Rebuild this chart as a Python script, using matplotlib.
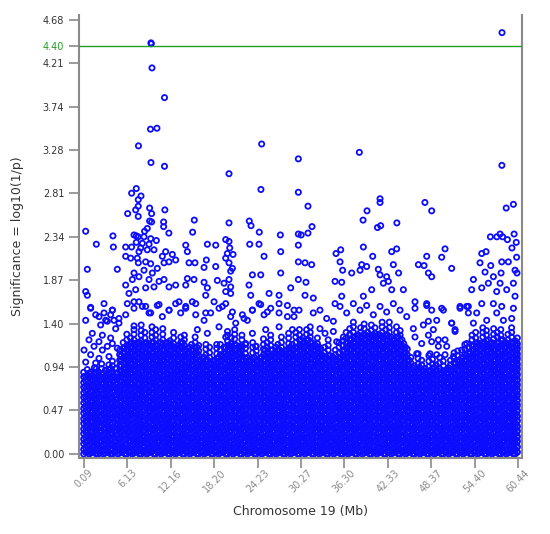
import matplotlib
matplotlib.use("Agg")
import matplotlib.pyplot as plt

# valeurs (Mb, -log10 p)
top_mb = [9.41, 9.45, 9.55, 11.29, 9.34, 10.24, 7.67, 9.41, 11.29, 58.22, 20.26, 24.8, 29.9,
          24.7, 29.9, 7.37, 6.72, 8.02, 7.64, 7.64, 7.28, 6.17, 7.64, 9.22, 9.5, 9.22, 9.5,
          11.34, 11.17, 11.17, 8.9, 8.52, 11.9, 15.43, 15.2, 20.26, 23.08, 23.32, 24.47, 27.4,
          29.9, 0.33, 4.12, 7.37, 7.64, 38.38, 58.2, 31.24, 41.26, 41.26, 39.45, 38.9, 40.9,
          41.35, 43.6, 47.5, 48.44, 58.8, 59.8, 31.8, 31.24, 30.3, 56.6, 57.95, 57.5, 58.3,
          59.9, 7.05, 8.44, 9.37, 19.8, 58.97]
top_sig = [4.43, 4.42, 4.16, 3.84, 3.50, 3.51, 3.32, 3.14, 3.10, 4.54, 3.02, 3.34, 3.18,
           2.85, 2.82, 2.86, 2.81, 2.78, 2.74, 2.67, 2.63, 2.59, 2.56, 2.65, 2.59, 2.51, 2.50,
           2.63, 2.50, 2.45, 2.43, 2.40, 2.38, 2.52, 2.39, 2.49, 2.51, 2.46, 2.39, 2.36,
           2.37, 2.40, 2.35, 2.35, 2.34, 3.25, 3.11, 2.67, 2.75, 2.71, 2.62, 2.52, 2.44,
           2.46, 2.49, 2.71, 2.62, 2.65, 2.69, 2.45, 2.38, 2.36, 2.34, 2.37, 2.34, 2.34,
           2.37, 2.36, 2.34, 2.32, 2.31, 2.31]

mid_mb = [1.81, 4.18, 5.89, 6.72, 7.37, 8.21, 9.14, 10.16, 7.74, 11.45, 12.38, 14.24, 14.47,
          17.25, 18.41, 20.26, 20.36, 23.14, 24.43, 27.45, 25.13, 29.9, 0.56, 4.73, 5.89, 6.59,
          7.65, 8.67, 9.37, 10.99, 11.22, 11.92, 12.84, 14.7, 15.53, 17.11, 16.79, 18.41, 19.8,
          20.82, 20.26, 20.49, 23.51, 24.67, 27.45, 29.9, 0.33, 0.56, 5.89, 6.82, 6.35, 7.28,
          8.67, 10.53, 11.22, 11.92, 12.84, 14.47, 15.39, 14.24, 16.79, 17.25, 18.64, 17.02,
          19.8, 20.49, 23.04, 23.28, 25.83, 27.22, 28.84, 29.9, 7.98, 8.9, 9.83, 7.51, 8.44,
          9.6, 10.29, 7.05, 7.74, 9.14, 9.83, 20.03, 20.73, 20.26, 20.49, 19.57,
          35.14, 35.79, 35.7, 36.06, 35.0, 35.93, 37.32, 38.94, 38.71, 38.48, 39.4, 40.24,
          41.02, 41.26, 42.88, 43.57, 43.11, 42.18, 42.42, 43.84, 30.83, 31.75, 30.96, 46.59,
          47.38, 47.75, 50.3, 49.83, 47.98, 48.44, 51.22, 55.4, 56.0, 55.16, 56.65, 58.18,
          59.1, 60.03, 55.86, 57.02, 58.09, 54.24, 56.32, 57.95, 59.8, 54.0, 55.4, 57.48,
          58.87, 60.03, 30.83, 31.98, 35.0, 35.93, 38.94, 40.1, 41.72, 42.88, 44.5, 46.12,
          47.75, 50.07, 52.38, 53.54, 51.22, 51.69, 60.2, 60.25, 59.6, 60.3,
          1.02, 2.88, 4.04, 2.18, 3.11, 4.96, 5.89, 7.05, 8.21, 9.14, 10.53, 11.92, 13.31,
          14.24, 15.63, 17.02, 18.18, 19.34, 20.73, 22.35, 23.51, 24.67, 25.59, 27.22, 28.38,
          29.3,
          1.02, 1.72, 0.33, 1.25, 2.65, 3.8, 0.1, 0.33, 1.49, 2.65, 4.04, 4.5, 2.88, 4.04,
          4.27, 4.96, 2.41, 3.34, 3.8, 0.79, 2.18, 3.34, 4.73, 1.02, 2.18, 3.57, 1.72,
          6.12, 7.05, 7.74, 8.67, 9.37, 10.29, 10.99, 11.92, 12.84, 13.54, 14.24, 15.16,
          15.63, 16.79, 17.71, 18.87, 19.8, 20.49, 21.19, 22.12, 22.81, 23.51, 24.43, 25.13,
          26.06, 27.22, 28.38, 29.3, 30.0, 15.86, 17.25, 18.87, 19.8, 23.51, 22.58, 23.97,
          25.36, 27.22, 29.07, 21.88, 23.04,
          47.75, 48.44, 49.83, 51.22, 51.69, 47.28, 47.98, 49.14, 48.67, 47.98, 47.05, 48.44,
          49.37, 50.3, 49.37, 50.53, 48.21, 49.14, 50.3, 51.46, 46.36, 46.12, 45.89, 52.38,
          53.31, 53.54, 52.61, 53.31, 54.7, 55.4, 57.02, 58.18, 59.8, 58.41, 59.57, 56.09,
          54.24, 57.48, 31.98, 32.91, 33.84, 34.77, 35.7, 36.62, 37.55, 38.47, 39.4, 40.33,
          41.26, 42.18, 43.11, 44.04, 44.97, 46.12, 33.61, 34.77, 36.16, 32.91, 35.23]
mid_sig = [2.26, 2.23, 2.23, 2.23, 2.28, 2.27, 2.26, 2.30, 2.18, 2.18, 2.15, 2.25, 2.18,
           2.26, 2.25, 2.29, 2.22, 2.26, 2.26, 2.18, 2.13, 2.25, 1.99, 1.99, 2.13, 2.11,
           2.06, 2.07, 2.05, 2.13, 2.06, 2.07, 2.09, 2.06, 2.06, 2.09, 2.01, 2.02, 2.11,
           2.15, 2.06, 1.97, 1.93, 1.93, 1.95, 2.07, 1.75, 1.71, 1.82, 1.88, 1.73, 1.77,
           1.79, 1.86, 1.88, 1.80, 1.82, 1.89, 1.88, 1.82, 1.85, 1.79, 1.87, 1.71,
           1.75, 1.73, 1.82, 1.71, 1.73, 1.71, 1.79, 1.88, 2.22, 2.20, 2.20, 2.11, 1.98,
           1.95, 2.00, 1.95, 1.91, 1.88, 1.80, 2.16, 2.00, 1.88, 1.80, 1.84,
           2.16, 2.20, 2.07, 1.98, 1.86, 1.85, 1.95, 2.23, 2.04, 1.98, 2.02, 2.13,
           1.99, 1.93, 2.18, 2.21, 2.04, 1.91, 1.86, 1.95, 2.06, 2.04, 1.85, 2.04,
           2.03, 2.13, 2.21, 2.12, 1.95, 1.91, 2.00, 2.16, 2.18, 2.06, 2.03, 2.07,
           2.07, 1.98, 1.96, 1.91, 1.95, 1.88, 1.84, 1.84, 1.84, 1.77, 1.79, 1.75,
           1.77, 1.70, 1.71, 1.68, 1.62, 1.70, 1.70, 1.77, 1.84, 1.77, 1.77, 1.64,
           1.62, 1.55, 1.57, 1.59, 1.41, 1.34, 2.28, 2.12, 2.22, 1.95,
           1.57, 1.62, 1.55, 1.48, 1.44, 1.46, 1.50, 1.64, 1.59, 1.52, 1.61, 1.55, 1.64,
           1.57, 1.62, 1.52, 1.64, 1.59, 1.53, 1.46, 1.55, 1.61, 1.53, 1.62, 1.48,
           1.55,
           1.58, 1.50, 1.44, 1.30, 1.28, 1.25, 1.12, 0.99, 1.16, 1.12, 1.19, 1.35, 1.52, 1.55,
           1.44, 1.41, 1.39, 1.43, 1.50, 1.23, 1.21, 1.16, 1.14, 1.07, 1.03, 1.05, 0.98,
           1.62, 1.57, 1.64, 1.59, 1.52, 1.60, 1.48, 1.55, 1.62, 1.52, 1.59, 1.64,
           1.50, 1.44, 1.52, 1.57, 1.62, 1.48, 1.41, 1.50, 1.44, 1.55, 1.62, 1.50,
           1.57, 1.52, 1.60, 1.48, 1.55, 1.34, 1.30, 1.37, 1.26, 1.30, 1.19, 1.16,
           1.34, 1.37, 1.34, 1.08, 1.01,
           1.60, 1.55, 1.57, 1.41, 1.32, 1.39, 1.43, 1.44, 1.34, 1.28, 1.19, 1.21,
           1.23, 1.23, 1.16, 1.16, 1.08, 1.07, 1.07, 1.05, 1.08, 1.26, 1.35, 1.59,
           1.59, 1.52, 1.12, 1.19, 1.52, 1.62, 1.62, 1.59, 1.57, 1.44, 1.46, 1.44,
           1.41, 1.52, 1.52, 1.55, 1.46, 1.43, 1.59, 1.52, 1.62, 1.55, 1.60, 1.50,
           1.59, 1.53, 1.62, 1.55, 1.48, 1.57, 1.30, 1.32, 1.26, 1.35, 1.21]

# bande dense du bas : positions (Mb) et valeurs (centiemes) par colonne
band_mb = [0.05, 0.55, 1.05, 1.55, 2.05, 2.55, 3.05, 3.55, 4.05, 4.55, 5.05, 5.55, 6.05, 6.55,
           7.05, 7.55, 8.05, 8.55, 9.05, 9.55, 10.05, 10.55, 11.05, 11.55, 12.05, 12.55, 13.05,
           13.55, 14.05, 14.55, 15.05, 15.55, 16.05, 16.55, 17.05, 17.55, 18.05, 18.55, 19.05,
           19.55, 20.05, 20.55, 21.05, 21.55, 22.05, 22.55, 23.05, 23.55, 24.05, 24.55, 25.05,
           25.55, 26.05, 26.55, 27.05, 27.55, 28.05, 28.55, 29.05, 29.55, 30.05, 30.55, 31.05,
           31.55, 32.05, 32.55, 33.05, 33.55, 34.05, 34.55, 35.05, 35.55, 36.05, 36.55, 37.05,
           37.55, 38.05, 38.55, 39.05, 39.55, 40.05, 40.55, 41.05, 41.55, 42.05, 42.55, 43.05,
           43.55, 44.05, 44.55, 45.05, 45.55, 46.05, 46.55, 47.05, 47.55, 48.05, 48.55, 49.05,
           49.55, 50.05, 50.55, 51.05, 51.55, 52.05, 52.55, 53.05, 53.55, 54.05, 54.55, 55.05,
           55.55, 56.05, 56.55, 57.05, 57.55, 58.05, 58.55, 59.05, 59.55, 60.05, 60.35]
band_sig = [
    [0, 5, 11, 16, 22, 27, 33, 38, 44, 49, 55, 61, 66, 72, 77, 83, 88],
    [2, 8, 13, 19, 24, 30, 35, 41, 47, 52, 58, 63, 69, 74, 80, 85, 91],
    [1, 6, 12, 18, 23, 29, 34, 40, 45, 51, 56, 62, 67, 73, 78, 84, 88],
    [3, 9, 14, 20, 26, 31, 37, 42, 48, 53, 59, 64, 70, 76, 81, 87, 93],
    [0, 5, 10, 16, 21, 27, 33, 38, 44, 50, 55, 61, 66, 72, 77, 83, 89],
    [3, 8, 14, 19, 25, 30, 36, 41, 47, 53, 58, 64, 69, 75, 80, 86, 92, 97],
    [1, 6, 12, 17, 23, 28, 34, 40, 45, 51, 56, 62, 67, 73, 79, 84, 90],
    [2, 8, 13, 19, 25, 30, 36, 41, 47, 52, 58, 63, 69, 75, 80, 86, 91, 96],
    [0, 6, 11, 17, 22, 28, 33, 39, 44, 50, 56, 61, 67, 72, 78, 83, 89, 95, 100],
    [3, 9, 14, 20, 25, 31, 37, 42, 48, 53, 59, 64, 70, 75, 81, 87, 92],
    [1, 6, 12, 17, 23, 29, 34, 40, 45, 51, 56, 62, 68, 73, 79, 84, 90, 95, 101, 107, 112],
    [3, 8, 14, 20, 25, 31, 36, 42, 47, 53, 59, 64, 70, 75, 81, 86, 92, 98, 103, 109, 114, 120],
    [0, 6, 11, 17, 23, 28, 34, 39, 45, 50, 56, 62, 67, 73, 78, 84, 89, 95, 101, 106, 112, 117, 123, 129],
    [2, 8, 13, 19, 24, 30, 36, 41, 47, 52, 58, 63, 69, 75, 80, 86, 91, 97, 102, 108, 114, 119, 125],
    [1, 6, 12, 17, 23, 28, 34, 40, 45, 51, 56, 62, 67, 73, 79, 84, 90, 95, 101, 106, 112, 118, 123, 129, 134, 138],
    [3, 9, 14, 20, 25, 31, 36, 42, 48, 53, 59, 64, 70, 75, 81, 87, 92, 98, 103, 109, 114, 120],
    [0, 5, 11, 16, 22, 28, 33, 39, 44, 50, 55, 61, 67, 72, 78, 83, 89, 94, 100, 106, 111, 117, 122, 128, 133, 139],
    [2, 8, 14, 19, 25, 30, 36, 41, 47, 53, 58, 64, 69, 75, 80, 86, 92, 97, 103, 108, 114, 119, 125, 131],
    [1, 7, 12, 18, 23, 29, 35, 40, 46, 51, 57, 62, 68, 74, 79, 85, 90, 96, 101, 107, 113, 118],
    [3, 9, 14, 20, 26, 31, 37, 42, 48, 53, 59, 65, 70, 76, 81, 87, 92, 98, 104, 109, 115, 120, 126, 131, 137],
    [0, 6, 11, 17, 22, 28, 34, 39, 45, 50, 56, 61, 67, 73, 78, 84, 89, 95, 100, 106, 112, 117, 123, 128, 134],
    [2, 8, 13, 19, 25, 30, 36, 41, 47, 52, 58, 64, 69, 75, 80, 86, 91, 97, 103, 108, 114],
    [1, 6, 12, 18, 23, 29, 34, 40, 45, 51, 57, 62, 68, 73, 79, 84, 90, 96, 101, 107, 112, 118, 123, 129, 135],
    [3, 9, 14, 20, 25, 31, 37, 42, 48, 53, 59, 64, 70, 76, 81, 87, 92, 98, 103, 109, 115, 120],
    [0, 5, 11, 16, 22, 28, 33, 39, 44, 50, 55, 61, 67, 72, 78, 83, 89, 94, 100, 106, 111, 117, 122],
    [2, 8, 14, 19, 25, 30, 36, 41, 47, 53, 58, 64, 69, 75, 80, 86, 92, 97, 103, 108, 114, 119, 125, 131],
    [1, 7, 12, 18, 23, 29, 35, 40, 46, 51, 57, 62, 68, 74, 79, 85, 90, 96, 101, 107, 113],
    [3, 9, 14, 20, 26, 31, 37, 42, 48, 53, 59, 65, 70, 76, 81, 87, 92, 98, 104, 109, 115, 120, 126],
    [0, 6, 11, 17, 22, 28, 34, 39, 45, 50, 56, 61, 67, 73, 78, 84, 89, 95, 100, 106, 112, 117, 123, 128],
    [2, 8, 13, 19, 25, 30, 36, 41, 47, 52, 58, 64, 69, 75, 80, 86, 91, 97, 103, 108, 114],
    [1, 6, 12, 18, 23, 29, 34, 40, 45, 51, 57, 62, 68, 73, 79, 84, 90, 96, 101, 107, 112, 118],
    [3, 9, 14, 20, 25, 31, 37, 42, 48, 53, 59, 64, 70, 76, 81, 87, 92, 98, 103, 109, 115, 120, 126],
    [0, 5, 11, 16, 22, 28, 33, 39, 44, 50, 55, 61, 67, 72, 78, 83, 89, 94, 100, 106, 111, 117],
    [2, 8, 14, 19, 25, 30, 36, 41, 47, 53, 58, 64, 69, 75, 80, 86, 92, 97, 103],
    [1, 7, 12, 18, 23, 29, 35, 40, 46, 51, 57, 62, 68, 74, 79, 85, 90, 96, 101, 107, 113, 118],
    [3, 9, 14, 20, 26, 31, 37, 42, 48, 53, 59, 65, 70, 76, 81, 87, 92, 98, 104, 109, 115],
    [0, 6, 11, 17, 22, 28, 34, 39, 45, 50, 56, 61, 67, 73, 78, 84, 89, 95, 100],
    [2, 8, 13, 19, 25, 30, 36, 41, 47, 52, 58, 64, 69, 75, 80, 86, 91, 97, 103, 108, 114, 118],
    [1, 6, 12, 18, 23, 29, 34, 40, 45, 51, 57, 62, 68, 73, 79, 84, 90, 96, 101, 107, 112, 118],
    [3, 9, 14, 20, 25, 31, 37, 42, 48, 53, 59, 64, 70, 76, 81, 87, 92, 98, 103, 109, 115],
    [0, 5, 11, 16, 22, 28, 33, 39, 44, 50, 55, 61, 67, 72, 78, 83, 89, 94, 100, 106, 111, 117, 122, 128, 132],
    [2, 8, 14, 19, 25, 30, 36, 41, 47, 53, 58, 64, 69, 75, 80, 86, 92, 97, 103, 108, 114, 119, 125],
    [1, 7, 12, 18, 23, 29, 35, 40, 46, 51, 57, 62, 68, 74, 79, 85, 90, 96, 101, 107, 113, 118, 124, 129, 134],
    [3, 9, 14, 20, 26, 31, 37, 42, 48, 53, 59, 65, 70, 76, 81, 87, 92, 98, 104, 109, 115],
    [0, 6, 11, 17, 22, 28, 34, 39, 45, 50, 56, 61, 67, 73, 78, 84, 89, 95, 100, 106, 112, 117, 123, 128],
    [2, 8, 13, 19, 25, 30, 36, 41, 47, 52, 58, 64, 69, 75, 80, 86, 91, 97, 103, 108, 114, 118],
    [1, 6, 12, 18, 23, 29, 34, 40, 45, 51, 57, 62, 68, 73, 79, 84, 90, 96, 101],
    [3, 9, 14, 20, 25, 31, 37, 42, 48, 53, 59, 64, 70, 76, 81, 87, 92, 98, 103, 109, 115, 120],
    [0, 5, 11, 16, 22, 28, 33, 39, 44, 50, 55, 61, 67, 72, 78, 83, 89, 94, 100, 106, 111, 116],
    [2, 8, 14, 19, 25, 30, 36, 41, 47, 53, 58, 64, 69, 75, 80, 86, 92, 97, 103],
    [1, 7, 12, 18, 23, 29, 35, 40, 46, 51, 57, 62, 68, 74, 79, 85, 90, 96, 101, 107, 113, 118, 124],
    [3, 9, 14, 20, 26, 31, 37, 42, 48, 53, 59, 65, 70, 76, 81, 87, 92, 98, 104, 109, 115, 120],
    [0, 6, 11, 17, 22, 28, 34, 39, 45, 50, 56, 61, 67, 73, 78, 84, 89, 95, 100, 106, 112, 117, 123, 128],
    [2, 8, 13, 19, 25, 30, 36, 41, 47, 52, 58, 64, 69, 75, 80, 86, 91, 97, 103, 108],
    [1, 6, 12, 18, 23, 29, 34, 40, 45, 51, 57, 62, 68, 73, 79, 84, 90, 96, 101, 107, 112, 118],
    [3, 9, 14, 20, 25, 31, 37, 42, 48, 53, 59, 64, 70, 76, 81, 87, 92, 98, 103, 109, 115, 120, 126],
    [0, 5, 11, 16, 22, 28, 33, 39, 44, 50, 55, 61, 67, 72, 78, 83, 89, 94, 100, 106, 111],
    [2, 8, 14, 19, 25, 30, 36, 41, 47, 53, 58, 64, 69, 75, 80, 86, 92, 97, 103, 108, 114, 119, 125, 130],
    [1, 7, 12, 18, 23, 29, 35, 40, 46, 51, 57, 62, 68, 74, 79, 85, 90, 96, 101, 107, 113, 118],
    [3, 9, 14, 20, 26, 31, 37, 42, 48, 53, 59, 65, 70, 76, 81, 87, 92, 98, 104, 109, 115, 120, 126, 131],
    [0, 6, 11, 17, 22, 28, 34, 39, 45, 50, 56, 61, 67, 73, 78, 84, 89, 95, 100, 106, 112, 117, 123, 128, 134],
    [2, 8, 13, 19, 25, 30, 36, 41, 47, 52, 58, 64, 69, 75, 80, 86, 91, 97, 103, 108, 114, 119, 125],
    [1, 6, 12, 18, 23, 29, 34, 40, 45, 51, 57, 62, 68, 73, 79, 84, 90, 96, 101, 107, 112, 118, 123, 129, 134],
    [3, 9, 14, 20, 25, 31, 37, 42, 48, 53, 59, 64, 70, 76, 81, 87, 92, 98, 103, 109, 115, 120, 126, 131, 137],
    [0, 5, 11, 16, 22, 28, 33, 39, 44, 50, 55, 61, 67, 72, 78, 83, 89, 94, 100, 106, 111, 117],
    [2, 8, 14, 19, 25, 30, 36, 41, 47, 53, 58, 64, 69, 75, 80, 86, 92, 97, 103, 108, 114, 119, 125],
    [1, 7, 12, 18, 23, 29, 35, 40, 46, 51, 57, 62, 68, 74, 79, 85, 90, 96, 101, 107, 113],
    [3, 9, 14, 20, 26, 31, 37, 42, 48, 53, 59, 65, 70, 76, 81, 87, 92, 98, 104, 109, 115],
    [0, 6, 11, 17, 22, 28, 34, 39, 45, 50, 56, 61, 67, 73, 78, 84, 89, 95, 100, 106, 112, 117, 123],
    [2, 8, 13, 19, 25, 30, 36, 41, 47, 52, 58, 64, 69, 75, 80, 86, 91, 97, 103],
    [1, 6, 12, 18, 23, 29, 34, 40, 45, 51, 57, 62, 68, 73, 79, 84, 90, 96, 101, 107, 112],
    [3, 9, 14, 20, 25, 31, 37, 42, 48, 53, 59, 64, 70, 76, 81, 87, 92, 98, 103, 109, 115, 120],
    [0, 5, 11, 16, 22, 28, 33, 39, 44, 50, 55, 61, 67, 72, 78, 83, 89, 94, 100, 106, 111, 117, 122],
    [2, 8, 14, 19, 25, 30, 36, 41, 47, 53, 58, 64, 69, 75, 80, 86, 92, 97, 103, 108, 114, 119, 125, 131],
    [1, 7, 12, 18, 23, 29, 35, 40, 46, 51, 57, 62, 68, 74, 79, 85, 90, 96, 101, 107, 113, 118, 124, 129, 135],
    [3, 9, 14, 20, 26, 31, 37, 42, 48, 53, 59, 65, 70, 76, 81, 87, 92, 98, 104, 109, 115, 120, 126, 131, 137, 142],
    [0, 6, 11, 17, 22, 28, 34, 39, 45, 50, 56, 61, 67, 73, 78, 84, 89, 95, 100, 106, 112, 117, 123, 128],
    [2, 8, 13, 19, 25, 30, 36, 41, 47, 52, 58, 64, 69, 75, 80, 86, 91, 97, 103, 108, 114, 119, 125, 131, 136],
    [1, 6, 12, 18, 23, 29, 34, 40, 45, 51, 57, 62, 68, 73, 79, 84, 90, 96, 101, 107, 112, 118, 123, 129, 135, 140],
    [3, 9, 14, 20, 25, 31, 37, 42, 48, 53, 59, 64, 70, 76, 81, 87, 92, 98, 103, 109, 115, 120, 126, 131],
    [0, 5, 11, 16, 22, 28, 33, 39, 44, 50, 55, 61, 67, 72, 78, 83, 89, 94, 100, 106, 111, 117, 122, 128, 133, 139],
    [2, 8, 14, 19, 25, 30, 36, 41, 47, 53, 58, 64, 69, 75, 80, 86, 92, 97, 103, 108, 114, 119, 125, 130, 136],
    [1, 7, 12, 18, 23, 29, 35, 40, 46, 51, 57, 62, 68, 74, 79, 85, 90, 96, 101, 107, 113, 118, 124, 129],
    [3, 9, 14, 20, 26, 31, 37, 42, 48, 53, 59, 65, 70, 76, 81, 87, 92, 98, 104, 109, 115, 120, 126, 131, 137, 142],
    [0, 6, 11, 17, 22, 28, 34, 39, 45, 50, 56, 61, 67, 73, 78, 84, 89, 95, 100, 106, 112, 117, 123, 128, 134],
    [2, 8, 13, 19, 25, 30, 36, 41, 47, 52, 58, 64, 69, 75, 80, 86, 91, 97, 103, 108, 114, 119, 125, 131, 136, 142],
    [1, 6, 12, 18, 23, 29, 34, 40, 45, 51, 57, 62, 68, 73, 79, 84, 90, 96, 101, 107, 112, 118, 123],
    [3, 9, 14, 20, 25, 31, 37, 42, 48, 53, 59, 64, 70, 76, 81, 87, 92, 98, 103, 109, 115, 120, 126, 131, 137],
    [0, 5, 11, 16, 22, 28, 33, 39, 44, 50, 55, 61, 67, 72, 78, 83, 89, 94, 100, 106, 111, 117, 122, 128, 133],
    [2, 8, 14, 19, 25, 30, 36, 41, 47, 53, 58, 64, 69, 75, 80, 86, 92, 97, 103, 108, 114, 119],
    [1, 7, 12, 18, 23, 29, 35, 40, 46, 51, 57, 62, 68, 74, 79, 85, 90, 96, 101, 107, 113],
    [3, 9, 14, 20, 26, 31, 37, 42, 48, 53, 59, 65, 70, 76, 81, 87, 92, 98, 104],
    [0, 6, 11, 17, 22, 28, 34, 39, 45, 50, 56, 61, 67, 73, 78, 84, 89, 95],
    [2, 8, 13, 19, 25, 30, 36, 41, 47, 52, 58, 64, 69, 75, 80, 86, 91, 97, 103, 108],
    [1, 6, 12, 18, 23, 29, 34, 40, 45, 51, 57, 62, 68, 73, 79, 84, 90, 96, 101],
    [3, 9, 14, 20, 25, 31, 37, 42, 48, 53, 59, 64, 70, 76, 81, 87, 92],
    [0, 5, 11, 16, 22, 28, 33, 39, 44, 50, 55, 61, 67, 72, 78, 83, 89, 94, 100, 106],
    [2, 8, 14, 19, 25, 30, 36, 41, 47, 53, 58, 64, 69, 75, 80, 86, 92, 97, 102],
    [1, 7, 12, 18, 23, 29, 35, 40, 46, 51, 57, 62, 68, 74, 79, 85, 90, 96],
    [3, 9, 14, 20, 26, 31, 37, 42, 48, 53, 59, 65, 70, 76, 81, 87, 92, 98, 104],
    [0, 6, 11, 17, 22, 28, 34, 39, 45, 50, 56, 61, 67, 73, 78, 84, 89, 95, 100],
    [2, 8, 13, 19, 25, 30, 36, 41, 47, 52, 58, 64, 69, 75, 80, 86, 91],
    [1, 6, 12, 18, 23, 29, 34, 40, 45, 51, 57, 62, 68, 73, 79, 84, 90, 96, 101],
    [3, 9, 14, 20, 25, 31, 37, 42, 48, 53, 59, 64, 70, 76, 81, 87, 92, 98, 103, 109],
    [0, 5, 11, 16, 22, 28, 33, 39, 44, 50, 55, 61, 67, 72, 78, 83, 89, 94, 100, 106, 111],
    [2, 8, 14, 19, 25, 30, 36, 41, 47, 53, 58, 64, 69, 75, 80, 86, 92, 97, 103],
    [1, 7, 12, 18, 23, 29, 35, 40, 46, 51, 57, 62, 68, 74, 79, 85, 90, 96, 101, 107, 113, 118],
    [3, 9, 14, 20, 26, 31, 37, 42, 48, 53, 59, 65, 70, 76, 81, 87, 92, 98, 104, 109, 115],
    [0, 6, 11, 17, 22, 28, 34, 39, 45, 50, 56, 61, 67, 73, 78, 84, 89, 95, 100, 106, 112, 117, 123, 128],
    [2, 8, 13, 19, 25, 30, 36, 41, 47, 52, 58, 64, 69, 75, 80, 86, 91, 97, 103, 108, 114, 119, 125, 131],
    [1, 6, 12, 18, 23, 29, 34, 40, 45, 51, 57, 62, 68, 73, 79, 84, 90, 96, 101, 107, 112, 118],
    [3, 9, 14, 20, 25, 31, 37, 42, 48, 53, 59, 64, 70, 76, 81, 87, 92, 98, 103, 109, 115, 120, 126, 131, 136],
    [0, 5, 11, 16, 22, 28, 33, 39, 44, 50, 55, 61, 67, 72, 78, 83, 89, 94, 100, 106, 111, 117, 122, 128, 133],
    [2, 8, 14, 19, 25, 30, 36, 41, 47, 53, 58, 64, 69, 75, 80, 86, 92, 97, 103, 108, 114, 119],
    [1, 7, 12, 18, 23, 29, 35, 40, 46, 51, 57, 62, 68, 74, 79, 85, 90, 96, 101, 107, 113, 118, 124, 129, 135],
    [3, 9, 14, 20, 26, 31, 37, 42, 48, 53, 59, 65, 70, 76, 81, 87, 92, 98, 104, 109, 115, 120, 126, 131],
    [0, 6, 11, 17, 22, 28, 34, 39, 45, 50, 56, 61, 67, 73, 78, 84, 89, 95, 100, 106, 112, 117, 123, 128, 134],
    [2, 8, 13, 19, 25, 30, 36, 41, 47, 52, 58, 64, 69, 75, 80, 86, 91, 97, 103, 108, 114, 119],
    [1, 6, 12, 18, 23, 29, 34, 40, 45, 51, 57, 62, 68, 73, 79, 84, 90, 96, 101, 107, 112, 118, 123, 129],
    [3, 9, 14, 20, 25, 31, 37, 42, 48, 53, 59, 64, 70, 76, 81, 87, 92, 98, 103, 109, 115, 120, 126, 131, 136],
    [0, 5, 11, 16, 22, 28, 33, 39, 44, 50, 55, 61, 67, 72, 78, 83, 89, 94, 100, 106, 111, 117, 122],
    [2, 8, 14, 19, 25, 30, 36, 41, 47, 53, 58, 64, 69, 75, 80, 86, 92, 97, 103, 108, 114, 119, 125],
]

# colonnes intercalees de la bande (meme lecture, decalees de 0.25 Mb)
band2_mb = [0.3, 0.8, 1.3, 1.8, 2.3, 2.8, 3.3, 3.8, 4.3, 4.8, 5.3, 5.8, 6.3, 6.8, 7.3, 7.8,
            8.3, 8.8, 9.3, 9.8, 10.3, 10.8, 11.3, 11.8, 12.3, 12.8, 13.3, 13.8, 14.3, 14.8,
            15.3, 15.8, 16.3, 16.8, 17.3, 17.8, 18.3, 18.8, 19.3, 19.8, 20.3, 20.8, 21.3,
            21.8, 22.3, 22.8, 23.3, 23.8, 24.3, 24.8, 25.3, 25.8, 26.3, 26.8, 27.3, 27.8,
            28.3, 28.8, 29.3, 29.8, 30.3, 30.8, 31.3, 31.8, 32.3, 32.8, 33.3, 33.8, 34.3,
            34.8, 35.3, 35.8, 36.3, 36.8, 37.3, 37.8, 38.3, 38.8, 39.3, 39.8, 40.3, 40.8,
            41.3, 41.8, 42.3, 42.8, 43.3, 43.8, 44.3, 44.8, 45.3, 45.8, 46.3, 46.8, 47.3,
            47.8, 48.3, 48.8, 49.3, 49.8, 50.3, 50.8, 51.3, 51.8, 52.3, 52.8, 53.3, 53.8,
            54.3, 54.8, 55.3, 55.8, 56.3, 56.8, 57.3, 57.8, 58.3, 58.8, 59.3, 59.8, 60.3]
band2_sig = [
    [2, 7, 13, 18, 24, 29, 35, 40, 46, 51, 57, 62, 68, 73, 79, 84],
    [0, 5, 10, 16, 21, 27, 32, 38, 43, 49, 54, 60, 65, 71, 76, 82, 87],
    [2, 7, 13, 18, 24, 29, 35, 40, 46, 51, 57, 62, 68, 73, 79, 84],
    [0, 5, 11, 16, 21, 27, 32, 38, 44, 49, 54, 60, 65, 71, 76, 82, 87, 92],
    [1, 7, 13, 18, 24, 29, 35, 40, 46, 51, 57, 62, 68, 73, 79, 84],
    [0, 5, 10, 16, 21, 27, 33, 38, 43, 49, 54, 60, 65, 71, 77, 82, 87],
    [2, 7, 13, 18, 24, 30, 35, 40, 46, 51, 57, 62, 68, 73, 79, 84],
    [0, 5, 10, 16, 22, 27, 32, 38, 43, 49, 55, 60, 65, 71, 76, 82, 88, 92],
    [2, 8, 13, 18, 24, 29, 35, 41, 46, 51, 57, 63, 68, 73, 79, 84],
    [0, 5, 10, 16, 21, 27, 32, 38, 43, 49, 54, 60, 66, 71, 76, 82, 87],
    [2, 7, 13, 18, 24, 29, 35, 40, 46, 51, 57, 62, 68, 73, 79, 84, 90, 95, 101, 106],
    [0, 5, 10, 16, 21, 27, 32, 38, 43, 49, 54, 60, 65, 71, 76, 82, 87, 93, 98, 104, 109, 115],
    [2, 7, 13, 18, 24, 29, 35, 40, 46, 51, 57, 62, 68, 73, 79, 84, 90, 95, 101, 106, 112, 117],
    [0, 5, 10, 16, 21, 27, 32, 38, 43, 49, 54, 60, 65, 71, 76, 82, 87, 93, 98, 104, 109, 115, 120],
    [2, 7, 13, 18, 24, 29, 35, 41, 46, 51, 57, 62, 68, 73, 79, 85, 90, 95, 101, 106, 112, 117],
    [0, 5, 10, 16, 21, 27, 32, 38, 43, 49, 55, 60, 65, 71, 76, 82, 87, 93, 98, 104, 109, 115, 120],
    [2, 7, 13, 18, 24, 29, 35, 40, 46, 52, 57, 62, 68, 73, 79, 84, 90, 95, 101, 106, 112, 117],
    [0, 5, 11, 16, 21, 27, 32, 38, 43, 49, 54, 60, 65, 71, 76, 82, 87, 93, 98, 104, 109, 115, 120],
    [2, 7, 13, 18, 24, 29, 35, 40, 46, 51, 57, 62, 68, 74, 79, 84, 90, 95, 101, 106, 112, 117],
    [0, 5, 10, 16, 21, 27, 32, 38, 44, 49, 54, 60, 65, 71, 76, 82, 87, 93, 98, 104, 109, 115, 120],
    [2, 7, 13, 18, 24, 29, 35, 40, 46, 51, 57, 62, 68, 73, 79, 84, 90, 96, 101, 106, 112, 117],
    [0, 5, 10, 16, 21, 27, 33, 38, 43, 49, 54, 60, 65, 71, 76, 82, 87, 93, 98, 104, 109, 115, 120],
    [2, 7, 13, 18, 24, 29, 35, 40, 46, 51, 57, 62, 68, 73, 79, 84, 90, 95, 101, 106, 112, 117],
    [0, 5, 10, 16, 21, 27, 32, 38, 43, 49, 54, 60, 65, 71, 77, 82, 87, 93, 98, 104, 109, 115, 120],
    [2, 7, 13, 18, 24, 29, 35, 40, 46, 51, 57, 63, 68, 73, 79, 84, 90, 95, 101, 106, 112, 117],
    [0, 5, 10, 16, 21, 27, 32, 38, 43, 49, 54, 60, 65, 71, 76, 82, 87, 93, 98, 104, 109, 115],
    [2, 7, 13, 18, 24, 29, 35, 40, 46, 51, 57, 62, 68, 73, 79, 84, 90, 95, 101, 106, 112, 117],
    [0, 5, 10, 16, 21, 27, 32, 38, 43, 49, 54, 60, 65, 71, 76, 82, 88, 93, 98, 104, 109, 115, 120],
    [2, 7, 13, 18, 24, 29, 35, 40, 46, 51, 57, 62, 68, 73, 79, 84, 90, 95, 101, 106, 112],
    [0, 5, 10, 16, 21, 27, 32, 38, 43, 49, 54, 60, 65, 71, 76, 82, 87, 93, 98, 104, 109, 115],
    [2, 7, 13, 18, 24, 29, 35, 40, 46, 51, 57, 62, 68, 73, 79, 84, 90, 95, 101, 106, 112],
    [0, 5, 10, 16, 21, 27, 32, 38, 43, 49, 54, 60, 65, 71, 76, 82, 87, 93, 98, 104, 109, 115],
    [2, 7, 13, 18, 24, 29, 35, 40, 46, 51, 57, 62, 68, 73, 79, 84, 90, 95, 101],
    [0, 5, 10, 16, 21, 27, 32, 38, 43, 49, 54, 60, 65, 71, 76, 82, 87, 93, 98, 104],
    [2, 7, 13, 18, 24, 29, 35, 40, 46, 51, 57, 62, 68, 73, 79, 84, 90, 95, 101],
    [0, 5, 10, 16, 21, 27, 32, 38, 43, 49, 54, 60, 65, 71, 76, 82, 87, 93, 98],
    [2, 7, 13, 18, 24, 29, 35, 40, 46, 51, 57, 62, 68, 73, 79, 84, 90, 95, 101],
    [0, 5, 10, 16, 21, 27, 32, 38, 43, 49, 54, 60, 65, 71, 76, 82, 87, 93, 98, 104],
    [2, 7, 13, 18, 24, 29, 35, 40, 46, 51, 57, 62, 68, 73, 79, 84, 90, 95, 101, 106],
    [0, 5, 10, 16, 21, 27, 32, 38, 43, 49, 54, 60, 65, 71, 76, 82, 87, 93, 98, 104, 109, 115],
    [2, 7, 13, 18, 24, 29, 35, 40, 46, 51, 57, 62, 68, 73, 79, 84, 90, 95, 101, 106, 112, 117],
    [0, 5, 10, 16, 21, 27, 32, 38, 43, 49, 54, 60, 65, 71, 76, 82, 87, 93, 98, 104, 109, 115],
    [2, 7, 13, 18, 24, 29, 35, 40, 46, 51, 57, 62, 68, 73, 79, 84, 90, 95, 101, 106, 112, 117],
    [0, 5, 10, 16, 21, 27, 32, 38, 43, 49, 54, 60, 65, 71, 76, 82, 87, 93, 98, 104, 109, 115],
    [2, 7, 13, 18, 24, 29, 35, 40, 46, 51, 57, 62, 68, 73, 79, 84, 90, 95, 101],
    [0, 5, 10, 16, 21, 27, 32, 38, 43, 49, 54, 60, 65, 71, 76, 82, 87, 93, 98, 104],
    [2, 7, 13, 18, 24, 29, 35, 40, 46, 51, 57, 62, 68, 73, 79, 84, 90, 95, 101],
    [0, 5, 10, 16, 21, 27, 32, 38, 43, 49, 54, 60, 65, 71, 76, 82, 87, 93, 98, 104],
    [2, 7, 13, 18, 24, 29, 35, 40, 46, 51, 57, 62, 68, 73, 79, 84, 90, 95, 101],
    [0, 5, 10, 16, 21, 27, 32, 38, 43, 49, 54, 60, 65, 71, 76, 82, 87, 93, 98, 104],
    [2, 7, 13, 18, 24, 29, 35, 40, 46, 51, 57, 62, 68, 73, 79, 84, 90, 95, 101, 106, 112],
    [0, 5, 10, 16, 21, 27, 32, 38, 43, 49, 54, 60, 65, 71, 76, 82, 87, 93, 98, 104, 109],
    [2, 7, 13, 18, 24, 29, 35, 40, 46, 51, 57, 62, 68, 73, 79, 84, 90, 95, 101, 106, 112],
    [0, 5, 10, 16, 21, 27, 32, 38, 43, 49, 54, 60, 65, 71, 76, 82, 87, 93, 98, 104, 109, 115],
    [2, 7, 13, 18, 24, 29, 35, 40, 46, 51, 57, 62, 68, 73, 79, 84, 90, 95, 101, 106, 112],
    [0, 5, 10, 16, 21, 27, 32, 38, 43, 49, 54, 60, 65, 71, 76, 82, 87, 93, 98, 104, 109],
    [2, 7, 13, 18, 24, 29, 35, 40, 46, 51, 57, 62, 68, 73, 79, 84, 90, 95, 101, 106, 112],
    [0, 5, 10, 16, 21, 27, 32, 38, 43, 49, 54, 60, 65, 71, 76, 82, 87, 93, 98, 104, 109, 115],
    [2, 7, 13, 18, 24, 29, 35, 40, 46, 51, 57, 62, 68, 73, 79, 84, 90, 95, 101, 106, 112],
    [0, 5, 10, 16, 21, 27, 32, 38, 43, 49, 54, 60, 65, 71, 76, 82, 87, 93, 98, 104, 109, 115],
    [2, 7, 13, 18, 24, 29, 35, 40, 46, 51, 57, 62, 68, 73, 79, 84, 90, 95, 101, 106, 112, 117, 123],
    [0, 5, 10, 16, 21, 27, 32, 38, 43, 49, 54, 60, 65, 71, 76, 82, 87, 93, 98, 104, 109, 115, 120],
    [2, 7, 13, 18, 24, 29, 35, 40, 46, 51, 57, 62, 68, 73, 79, 84, 90, 95, 101, 106, 112, 117, 123],
    [0, 5, 10, 16, 21, 27, 32, 38, 43, 49, 54, 60, 65, 71, 76, 82, 87, 93, 98, 104, 109, 115, 120],
    [2, 7, 13, 18, 24, 29, 35, 40, 46, 51, 57, 62, 68, 73, 79, 84, 90, 95, 101, 106, 112, 117],
    [0, 5, 10, 16, 21, 27, 32, 38, 43, 49, 54, 60, 65, 71, 76, 82, 87, 93, 98, 104, 109, 115],
    [2, 7, 13, 18, 24, 29, 35, 40, 46, 51, 57, 62, 68, 73, 79, 84, 90, 95, 101, 106],
    [0, 5, 10, 16, 21, 27, 32, 38, 43, 49, 54, 60, 65, 71, 76, 82, 87, 93, 98, 104],
    [2, 7, 13, 18, 24, 29, 35, 40, 46, 51, 57, 62, 68, 73, 79, 84, 90, 95, 101, 106],
    [0, 5, 10, 16, 21, 27, 32, 38, 43, 49, 54, 60, 65, 71, 76, 82, 87, 93, 98, 104],
    [2, 7, 13, 18, 24, 29, 35, 40, 46, 51, 57, 62, 68, 73, 79, 84, 90, 95, 101],
    [0, 5, 10, 16, 21, 27, 32, 38, 43, 49, 54, 60, 65, 71, 76, 82, 87, 93, 98, 104],
    [2, 7, 13, 18, 24, 29, 35, 40, 46, 51, 57, 62, 68, 73, 79, 84, 90, 95, 101, 106, 112],
    [0, 5, 10, 16, 21, 27, 32, 38, 43, 49, 54, 60, 65, 71, 76, 82, 87, 93, 98, 104, 109, 115, 120],
    [2, 7, 13, 18, 24, 29, 35, 40, 46, 51, 57, 62, 68, 73, 79, 84, 90, 95, 101, 106, 112, 117, 123],
    [0, 5, 10, 16, 21, 27, 32, 38, 43, 49, 54, 60, 65, 71, 76, 82, 87, 93, 98, 104, 109, 115, 120, 126],
    [2, 7, 13, 18, 24, 29, 35, 40, 46, 51, 57, 62, 68, 73, 79, 84, 90, 95, 101, 106, 112, 117, 123, 128],
    [0, 5, 10, 16, 21, 27, 32, 38, 43, 49, 54, 60, 65, 71, 76, 82, 87, 93, 98, 104, 109, 115, 120, 126],
    [2, 7, 13, 18, 24, 29, 35, 40, 46, 51, 57, 62, 68, 73, 79, 84, 90, 95, 101, 106, 112, 117, 123, 128],
    [0, 5, 10, 16, 21, 27, 32, 38, 43, 49, 54, 60, 65, 71, 76, 82, 87, 93, 98, 104, 109, 115, 120, 126],
    [2, 7, 13, 18, 24, 29, 35, 40, 46, 51, 57, 62, 68, 73, 79, 84, 90, 95, 101, 106, 112, 117, 123, 128],
    [0, 5, 10, 16, 21, 27, 32, 38, 43, 49, 54, 60, 65, 71, 76, 82, 87, 93, 98, 104, 109, 115, 120, 126],
    [2, 7, 13, 18, 24, 29, 35, 40, 46, 51, 57, 62, 68, 73, 79, 84, 90, 95, 101, 106, 112, 117, 123, 128],
    [0, 5, 10, 16, 21, 27, 32, 38, 43, 49, 54, 60, 65, 71, 76, 82, 87, 93, 98, 104, 109, 115, 120, 126],
    [2, 7, 13, 18, 24, 29, 35, 40, 46, 51, 57, 62, 68, 73, 79, 84, 90, 95, 101, 106, 112, 117, 123, 128],
    [0, 5, 10, 16, 21, 27, 32, 38, 43, 49, 54, 60, 65, 71, 76, 82, 87, 93, 98, 104, 109, 115, 120, 126],
    [2, 7, 13, 18, 24, 29, 35, 40, 46, 51, 57, 62, 68, 73, 79, 84, 90, 95, 101, 106, 112, 117, 123],
    [0, 5, 10, 16, 21, 27, 32, 38, 43, 49, 54, 60, 65, 71, 76, 82, 87, 93, 98, 104, 109, 115, 120, 126],
    [2, 7, 13, 18, 24, 29, 35, 40, 46, 51, 57, 62, 68, 73, 79, 84, 90, 95, 101, 106, 112, 117, 123],
    [0, 5, 10, 16, 21, 27, 32, 38, 43, 49, 54, 60, 65, 71, 76, 82, 87, 93, 98, 104, 109, 115],
    [2, 7, 13, 18, 24, 29, 35, 40, 46, 51, 57, 62, 68, 73, 79, 84, 90, 95, 101],
    [0, 5, 10, 16, 21, 27, 32, 38, 43, 49, 54, 60, 65, 71, 76, 82, 87, 93],
    [2, 7, 13, 18, 24, 29, 35, 40, 46, 51, 57, 62, 68, 73, 79, 84, 90],
    [0, 5, 10, 16, 21, 27, 32, 38, 43, 49, 54, 60, 65, 71, 76, 82, 87, 93],
    [2, 7, 13, 18, 24, 29, 35, 40, 46, 51, 57, 62, 68, 73, 79, 84, 90],
    [0, 5, 10, 16, 21, 27, 32, 38, 43, 49, 54, 60, 65, 71, 76, 82, 87],
    [2, 7, 13, 18, 24, 29, 35, 40, 46, 51, 57, 62, 68, 73, 79, 84, 90],
    [0, 5, 10, 16, 21, 27, 32, 38, 43, 49, 54, 60, 65, 71, 76, 82, 87, 93],
    [2, 7, 13, 18, 24, 29, 35, 40, 46, 51, 57, 62, 68, 73, 79, 84, 90],
    [0, 5, 10, 16, 21, 27, 32, 38, 43, 49, 54, 60, 65, 71, 76, 82, 87],
    [2, 7, 13, 18, 24, 29, 35, 40, 46, 51, 57, 62, 68, 73, 79, 84, 90],
    [0, 5, 10, 16, 21, 27, 32, 38, 43, 49, 54, 60, 65, 71, 76, 82, 87, 93],
    [2, 7, 13, 18, 24, 29, 35, 40, 46, 51, 57, 62, 68, 73, 79, 84, 90],
    [0, 5, 10, 16, 21, 27, 32, 38, 43, 49, 54, 60, 65, 71, 76, 82, 87, 93, 98],
    [2, 7, 13, 18, 24, 29, 35, 40, 46, 51, 57, 62, 68, 73, 79, 84, 90, 95, 101],
    [0, 5, 10, 16, 21, 27, 32, 38, 43, 49, 54, 60, 65, 71, 76, 82, 87, 93, 98, 104],
    [2, 7, 13, 18, 24, 29, 35, 40, 46, 51, 57, 62, 68, 73, 79, 84, 90, 95, 101, 106],
    [0, 5, 10, 16, 21, 27, 32, 38, 43, 49, 54, 60, 65, 71, 76, 82, 87, 93, 98, 104, 109],
    [2, 7, 13, 18, 24, 29, 35, 40, 46, 51, 57, 62, 68, 73, 79, 84, 90, 95, 101, 106, 112, 117],
    [0, 5, 10, 16, 21, 27, 32, 38, 43, 49, 54, 60, 65, 71, 76, 82, 87, 93, 98, 104, 109, 115, 120],
    [2, 7, 13, 18, 24, 29, 35, 40, 46, 51, 57, 62, 68, 73, 79, 84, 90, 95, 101, 106, 112, 117],
    [0, 5, 10, 16, 21, 27, 32, 38, 43, 49, 54, 60, 65, 71, 76, 82, 87, 93, 98, 104, 109, 115, 120],
    [2, 7, 13, 18, 24, 29, 35, 40, 46, 51, 57, 62, 68, 73, 79, 84, 90, 95, 101, 106, 112, 117, 123],
    [0, 5, 10, 16, 21, 27, 32, 38, 43, 49, 54, 60, 65, 71, 76, 82, 87, 93, 98, 104, 109, 115, 120],
    [2, 7, 13, 18, 24, 29, 35, 40, 46, 51, 57, 62, 68, 73, 79, 84, 90, 95, 101, 106, 112, 117],
    [0, 5, 10, 16, 21, 27, 32, 38, 43, 49, 54, 60, 65, 71, 76, 82, 87, 93, 98, 104, 109, 115, 120],
    [2, 7, 13, 18, 24, 29, 35, 40, 46, 51, 57, 62, 68, 73, 79, 84, 90, 95, 101, 106, 112, 117, 123],
    [0, 5, 10, 16, 21, 27, 32, 38, 43, 49, 54, 60, 65, 71, 76, 82, 87, 93, 98, 104, 109, 115, 120],
    [2, 7, 13, 18, 24, 29, 35, 40, 46, 51, 57, 62, 68, 73, 79, 84, 90, 95, 101, 106, 112, 117],
    [0, 5, 10, 16, 21, 27, 32, 38, 43, 49, 54, 60, 65, 71, 76, 82, 87, 93, 98, 104, 109, 115, 120],
    [2, 7, 13, 18, 24, 29, 35, 40, 46, 51, 57, 62, 68, 73, 79, 84, 90, 95, 101, 106, 112, 117],
]

xticks = [0.09, 6.13, 12.16, 18.20, 24.23, 30.27, 36.30, 42.33, 48.37, 54.40, 60.44]
yticks = [0.00, 0.47, 0.94, 1.40, 1.87, 2.34, 2.81, 3.28, 3.74, 4.21, 4.40, 4.68]
seuil = 4.40

bleu = '#0c0cff'
vert = '#22a022'
gris = '#8a8a8a'

# mise a plat des colonnes de la bande
band_x = []
band_y = []
for mbs, cols in [(band_mb, band_sig), (band2_mb, band2_sig)]:
    for mb, col in zip(mbs, cols):
        band_x += [mb] * len(col)
        band_y += [v / 100 for v in col]

fig = plt.figure(figsize=(5.5, 5.34), dpi=100)
ax = fig.add_axes([0.1436, 0.1429, 0.8055, 0.829])

for xs, ys in [(band_x, band_y), (mid_mb, mid_sig), (top_mb, top_sig)]:
    ax.scatter(xs, ys, s=14, facecolors='none', edgecolors=bleu, linewidths=1.3, zorder=2)

ax.axhline(seuil, color=vert, lw=1.0, zorder=3)

ax.set_xlim(-0.6, 61.0)
ax.set_ylim(-0.04, 4.73)

ax.set_xticks(xticks)
ax.set_xticklabels(['%.2f' % t for t in xticks], rotation=45, ha='center', color=gris, fontsize=7)
ax.set_yticks(yticks)
ax.set_yticklabels(['%.2f' % t for t in yticks], color='#333333', fontsize=7)
ax.tick_params(axis='x', length=7, width=1.2, color=gris, pad=0)
ax.tick_params(axis='y', length=7, width=1.2, color=gris, pad=3.6)

i_seuil = yticks.index(seuil)
ax.get_yticklabels()[i_seuil].set_color(vert)
ax.yaxis.get_major_ticks()[i_seuil].tick1line.set_color(vert)

ax.spines['top'].set_visible(False)
for cote in ['left', 'right', 'bottom']:
    ax.spines[cote].set_color(gris)
    ax.spines[cote].set_linewidth(1.5)

ax.set_xlabel('Chromosome 19 (Mb)', fontsize=9, color='#333333')
ax.set_ylabel('Significance = log10(1/p)', fontsize=9, color='#333333')
ax.xaxis.set_label_coords(0.5, -0.107)
ax.yaxis.set_label_coords(-0.125, 0.5)

fig.savefig('out.png', dpi=100)
